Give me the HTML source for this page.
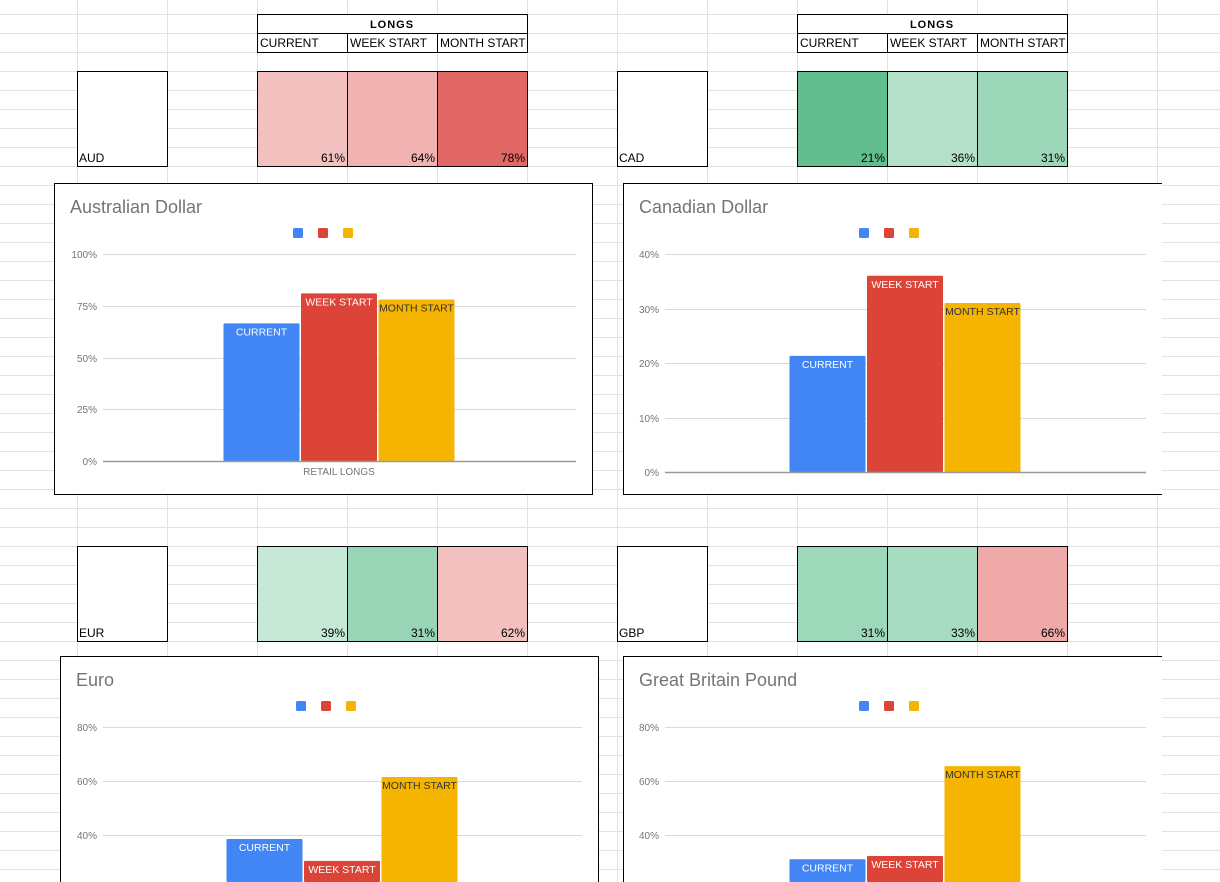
<!DOCTYPE html>
<html><head><meta charset="utf-8">
<style>
html,body{margin:0;width:1220px;height:882px;overflow:hidden;background:#fff;font-family:"Liberation Sans",sans-serif;}
svg{display:block;overflow:hidden}
</style></head>
<body>
<svg id="s" width="1220" height="882" viewBox="0 0 1220 882" xmlns="http://www.w3.org/2000/svg"></svg>
<script>
const seriesNames=["CURRENT","WEEK START","MONTH START"];
const seriesColors=["#4285f4","#db4437","#f4b400"];
const audValues=[66.5,81,78];
const cadValues=[21.3,36,31];
const eurValues=[38.5,30.4,61.5];
const gbpValues=[31,32.2,65.5];
const audTicks=[0,25,50,75,100];
const cadTicks=[0,10,20,30,40];
const eurTicks=[0,20,40,60,80];
const gbpTicks=[0,20,40,60,80];
const audCells=["61%","64%","78%"];
const cadCells=["21%","36%","31%"];
const eurCells=["39%","31%","62%"];
const gbpCells=["31%","33%","66%"];

const H=882;
const NS="http://www.w3.org/2000/svg";
const s=document.getElementById('s');
function mk(t,a,p){const e=document.createElementNS(NS,t);for(const k in a)e.setAttribute(k,a[k]);(p||s).appendChild(e);return e;}

const grid=mk('g',{});


for(let x=77;x<1220;x+=90)mk('line',{x1:x+.5,y1:0,x2:x+.5,y2:H,stroke:'#e2e2e2'},grid);
for(let y=14;y<H;y+=19)mk('line',{x1:0,y1:y+.5,x2:1220,y2:y+.5,stroke:'#e2e2e2'},grid);

function block(x0,y0,code,cells,colors){
  const g=mk('g',{});
  
  
  if(y0<100){
    mk('rect',{x:x0+.5,y:y0+.5,width:270,height:38,fill:'#fff',stroke:'#000'},g);
    mk('line',{x1:x0,y1:y0+19.5,x2:x0+270,y2:y0+19.5,stroke:'#000'},g);
    const lt=mk('text',{x:x0+135,y:y0+14,'text-anchor':'middle','font-size':11,'font-weight':'bold','letter-spacing':'1'},g);lt.textContent='LONGS';
    
    
    for(let i=0;i<3;i++){
      if(i>0)mk('line',{x1:x0+90*i+.5,y1:y0+19,x2:x0+90*i+.5,y2:y0+38,stroke:'#000'},g);
      const t=mk('text',{x:x0+90*i+3,y:y0+33,'font-size':12},g);t.textContent=seriesNames[i];
      
      
    }
  }
  const cy=y0<100?71:546;
  const cb=mk('rect',{x:x0-179.5,y:cy+.5,width:90,height:95,fill:'#fff',stroke:'#000'},g);
  
  
  const ct=mk('text',{x:x0-178,y:cy+91,'font-size':12},g);ct.textContent=code;
  for(let i=0;i<3;i++){
    const r=mk('rect',{x:x0+90*i+.5,y:cy+.5,width:90,height:95,fill:colors[i],stroke:'#000'},g);
    
    
    const t=mk('text',{x:x0+90*i+88,y:cy+91,'font-size':12,'text-anchor':'end'},g);t.textContent=cells[i];
  }
}
block(257,14,'AUD',audCells,['#f1c0bf','#f0b3b2','#e26866']);
block(797,14,'CAD',cadCells,['#63be8f','#b5e1cb','#9cd7ba']);
block(257,546,'EUR',eurCells,['#c5e8d7','#98d5b6','#f1c0bf']);
block(797,546,'GBP',gbpCells,['#9dd8bb','#a7dbc2','#eea9a8']);

function chart(o,values,ticks){
  const g=mk('g',{});
  
  
  const bh=Math.min(o.bh,H-o.by);
  const clipped=o.by+o.bh>H;
  mk('rect',{x:o.bx,y:o.by,width:o.bw,height:bh,fill:'#fff'},g);
  const L=o.bx+.5,R=o.bx+o.bw-.5,T=o.by+.5,B=o.by+bh-.5;
  let d;
  if(clipped) d=o.border?`M${L} ${H}V${T}H${R}V${H}`:`M${L} ${H}V${T}H${o.bx+o.bw}`;
  else d=o.border?`M${L} ${T}H${R}V${B}H${L}Z`:`M${o.bx+o.bw} ${T}H${L}V${B}H${o.bx+o.bw}`;
  mk('path',{d:d,fill:'none',stroke:'#000'},g);
  const t=mk('text',{x:o.bx+16,y:o.by+30,'font-size':18,fill:'#757575'},g);t.textContent=o.title;
  
  
  for(let i=0;i<3;i++){
    const l=mk('rect',{x:o.cx-46+25*i,y:o.by+45,width:10,height:10,rx:1.5,fill:seriesColors[i]},g);
    
    
  }
  const max=ticks[ticks.length-1];
  const Y=v=>o.y0-(o.y0-o.yTop)*v/max;
  ticks.forEach(v=>{
    const y=Math.round(Y(v))+.5;
    if(y>H-5)return;
    if(v>0)mk('line',{x1:o.ax1,y1:y,x2:o.ax2,y2:y,stroke:'#d9d9d9'},g);
    const tl=mk('text',{x:o.ax1-6,y:y+3.5,'font-size':10,fill:'#757575','text-anchor':'end'},g);tl.textContent=v+'%';
    
    
  });
  const bw=76,gap=1.5;
  const bottom=Math.min(o.y0,H);
  values.forEach((v,i)=>{
    const x=o.cx-bw*1.5-gap+i*(bw+gap);
    const yt=Y(v);
    const b=mk('rect',{x:x,y:yt,width:bw,height:Math.max(0,bottom-yt),fill:seriesColors[i],rx:1},g);
    
    
    const bl=mk('text',{x:x+bw/2,y:yt+12,'font-size':10.5,'text-anchor':'middle',fill:i==2?'#333':'#fff'},g);bl.textContent=seriesNames[i];
    
    
  });
  if(o.y0<H) mk('line',{x1:o.ax1,y1:o.y0+.5,x2:o.ax2,y2:o.y0+.5,stroke:'#999',"stroke-width":1.5},g);
  if(o.xlabel){const xl=mk('text',{x:o.cx,y:o.y0+14,'font-size':10,fill:'#757575','text-anchor':'middle'},g);xl.textContent=o.xlabel;
    
    }
}
chart({name:'aud-chart',title:'Australian Dollar',bx:54,by:183,bw:539,bh:312,border:true,cx:339,ax1:103,ax2:576,y0:461,yTop:254,xlabel:'RETAIL LONGS'},audValues,audTicks);
chart({name:'cad-chart',title:'Canadian Dollar',bx:623,by:183,bw:539,bh:312,border:false,cx:905,ax1:665,ax2:1146,y0:472,yTop:254},cadValues,cadTicks);
chart({name:'eur-chart',title:'Euro',bx:60,by:656,bw:539,bh:300,border:true,cx:342,ax1:103,ax2:582,y0:943,yTop:727},eurValues,eurTicks);
chart({name:'gbp-chart',title:'Great Britain Pound',bx:623,by:656,bw:539,bh:300,border:false,cx:905,ax1:665,ax2:1146,y0:943,yTop:727},gbpValues,gbpTicks);
</script>
</body></html>
